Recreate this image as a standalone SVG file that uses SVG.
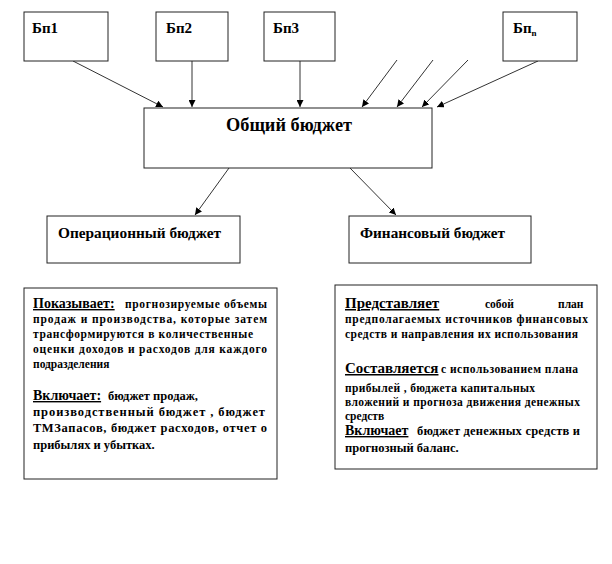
<svg xmlns="http://www.w3.org/2000/svg" width="612" height="564" viewBox="0 0 612 564">
<defs>
<style>
.box{fill:#fff;stroke:#222;stroke-width:1}
.t{font-weight:bold;fill:#000}
.h{font-size:15px}
.big{font-size:18px}
.s{font-size:11.5px}
.m{font-size:12.5px}
.l{font-size:14.5px}
.u{font-size:14px;text-decoration:underline}
.c{stroke:#333;stroke-width:1;fill:none;marker-end:url(#ah)}
</style>
<marker id="ah" viewBox="0 0 10 10" refX="10" refY="5" markerWidth="7" markerHeight="7" markerUnits="userSpaceOnUse" orient="auto">
<path d="M0,0 L10,5 L0,10 z" fill="#000"/>
</marker>
</defs>
<rect width="612" height="564" fill="#fff"/>
<g id="connectors">
<line class="c" x1="73" y1="61" x2="163" y2="107"/>
<line class="c" x1="192" y1="61" x2="192" y2="107"/>
<line class="c" x1="300" y1="61" x2="300" y2="107"/>
<line class="c" x1="397" y1="60" x2="362" y2="107"/>
<line class="c" x1="433" y1="60" x2="397" y2="107"/>
<line class="c" x1="468" y1="60" x2="422" y2="107"/>
<line class="c" x1="538" y1="61" x2="437" y2="107"/>
<line class="c" x1="229" y1="168" x2="195" y2="215"/>
<line class="c" x1="350" y1="168" x2="396" y2="215"/>
</g>
<g font-family="Liberation Serif, DejaVu Serif, serif">
<g id="bp1"><rect class="box" x="24" y="12" width="84" height="49"/><text class="t h" x="32" y="33">Бп1</text></g>
<g id="bp2"><rect class="box" x="156" y="12" width="72" height="49"/><text class="t h" x="166" y="33">Бп2</text></g>
<g id="bp3"><rect class="box" x="264" y="12" width="71" height="49"/><text class="t h" x="273" y="33">Бп3</text></g>
<g id="bpn"><rect class="box" x="503" y="12" width="74" height="49"/><text class="t h" x="513" y="33">Бп<tspan font-size="9px" dy="3">n</tspan></text></g>
<g id="total"><rect class="box" x="144" y="108" width="288" height="60"/><text class="t big" x="226" y="131" textLength="126" lengthAdjust="spacingAndGlyphs">Общий бюджет</text></g>
<g id="op"><rect class="box" x="47" y="216" width="193" height="47"/><text class="t l" x="58" y="238" textLength="163" lengthAdjust="spacingAndGlyphs">Операционный бюджет</text></g>
<g id="fin"><rect class="box" x="349" y="216" width="182" height="47"/><text class="t l" x="360" y="238" textLength="145" lengthAdjust="spacingAndGlyphs">Финансовый бюджет</text></g>
<g id="op-desc">
<rect class="box" x="24" y="288" width="253" height="191"/>
<text class="t u" x="33" y="308">Показывает:</text>
<text class="t s" x="125" y="308" textLength="142" lengthAdjust="spacing">прогнозируемые объемы</text>
<text class="t s" x="33" y="323" textLength="234" lengthAdjust="spacing">продаж и производства, которые затем</text>
<text class="t s" x="33" y="338" textLength="220" lengthAdjust="spacing">трансформируются в количественные</text>
<text class="t s" x="33" y="353" textLength="234" lengthAdjust="spacing">оценки доходов и расходов для каждого</text>
<text class="t s" x="33" y="368">подразделения</text>
<text class="t u" x="33" y="400">Включает:</text>
<text class="t m" x="108" y="400">бюджет продаж,</text>
<text class="t m" x="33" y="416" textLength="232" lengthAdjust="spacing">производственный бюджет , бюджет</text>
<text class="t m" x="33" y="432" textLength="234" lengthAdjust="spacing">ТМЗапасов, бюджет расходов, отчет о</text>
<text class="t m" x="33" y="449">прибылях и убытках.</text>
</g>
<g id="fin-desc">
<rect class="box" x="335" y="285" width="262" height="184"/>
<text class="t u" x="345" y="308" style="font-size:15px">Представляет</text>
<text class="t s" x="485" y="308">собой</text>
<text class="t s" x="558" y="308">план</text>
<text class="t s" x="345" y="323" textLength="243" lengthAdjust="spacing">предполагаемых источников финансовых</text>
<text class="t s" x="345" y="338" textLength="233" lengthAdjust="spacing">средств и направления их использования</text>
<text class="t u" x="345" y="373" style="font-size:15px">Составляется</text>
<text class="t s" x="441" y="373" textLength="137" lengthAdjust="spacing">с использованием плана</text>
<text class="t s" x="345" y="392" textLength="190" lengthAdjust="spacing">прибылей , бюджета капитальных</text>
<text class="t s" x="345" y="406" textLength="235" lengthAdjust="spacing">вложений и прогноза движения денежных</text>
<text class="t s" x="345" y="420">средств</text>
<text class="t u" x="345" y="435">Включает</text>
<text class="t m" x="417" y="435" textLength="163" lengthAdjust="spacing">бюджет денежных средств и</text>
<text class="t m" x="345" y="452">прогнозный баланс.</text>
</g>
</g>
</svg>
